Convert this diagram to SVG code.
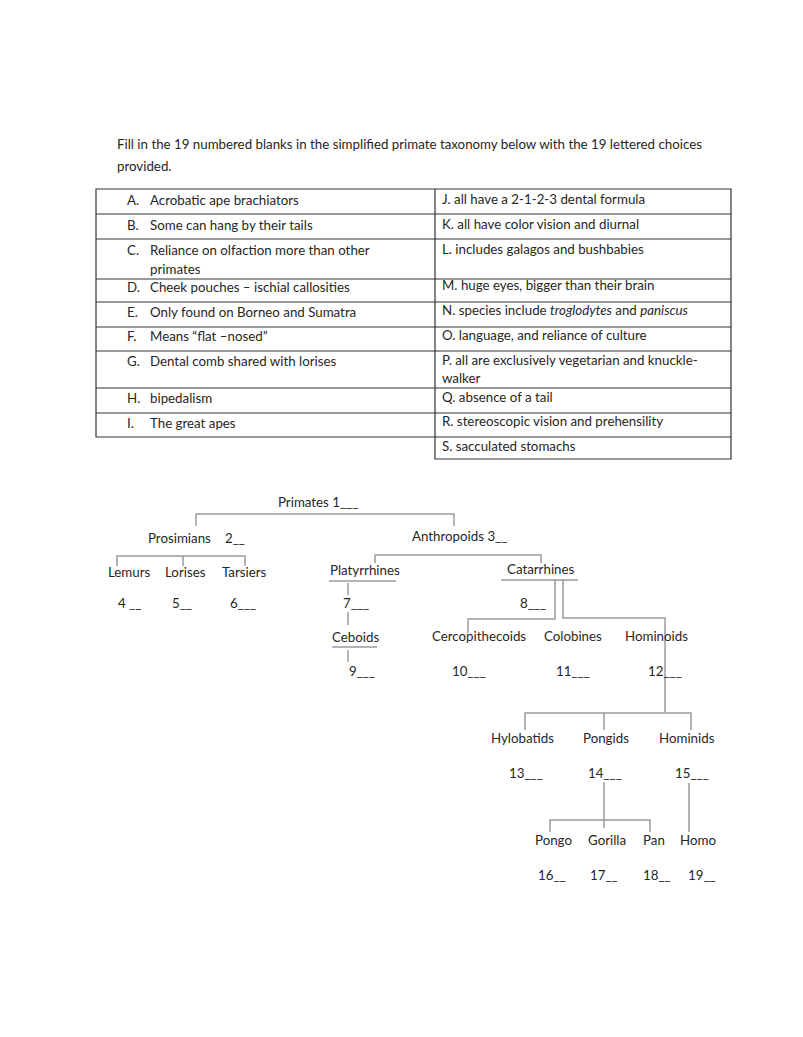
<svg xmlns="http://www.w3.org/2000/svg" width="803" height="1037" viewBox="0 0 803 1037">
<style>
text{font-family:Lato,"Open Sans","Liberation Sans",sans-serif;font-size:13.3px;fill:#262626}
.tb{fill:none;stroke:#333;stroke-width:1.2}
.c{fill:none;stroke:#9a9a9a;stroke-width:1.5}
</style>
<rect width="803" height="1037" fill="#fff"/>
<g id="instructions">
<text x="117" y="149">Fill in the 19 numbered blanks in the simplified primate taxonomy below with the 19 lettered choices</text>
<text x="117" y="171">provided.</text>
</g>
<g id="table">
<path class="tb" d="M96,189H731V459H435V437H96Z M435,189V437 M96,214H731 M96,239H731 M96,279H731 M96,302H731 M96,327H731 M96,351H731 M96,388H731 M96,413H731 M96,437H435 M435,437H731"/>
<g id="choices-left">
<text x="127" y="205">A.</text><text x="150" y="205">Acrobatic ape brachiators</text>
<text x="127" y="230">B.</text><text x="150" y="230">Some can hang by their tails</text>
<text x="127" y="255">C.</text><text x="150" y="255">Reliance on olfaction more than other</text>
<text x="150" y="274">primates</text>
<text x="127" y="292">D.</text><text x="150" y="292">Cheek pouches – ischial callosities</text>
<text x="127" y="317">E.</text><text x="150" y="317">Only found on Borneo and Sumatra</text>
<text x="127" y="341">F.</text><text x="150" y="341">Means “flat –nosed”</text>
<text x="127" y="366">G.</text><text x="150" y="366">Dental comb shared with lorises</text>
<text x="127" y="403">H.</text><text x="150" y="403">bipedalism</text>
<text x="127" y="428">I.</text><text x="150" y="428">The great apes</text>
</g>
<g id="choices-right">
<text x="442" y="204">J.  all have a 2-1-2-3 dental formula</text>
<text x="442" y="229">K. all have color vision and diurnal</text>
<text x="442" y="254">L. includes galagos and bushbabies</text>
<text x="442" y="290">M. huge eyes, bigger than their brain</text>
<text x="442" y="315">N. species include <tspan font-style="italic">troglodytes</tspan> and <tspan font-style="italic">paniscus</tspan></text>
<text x="442" y="340">O. language, and reliance of culture</text>
<text x="442" y="365">P. all are exclusively vegetarian and knuckle-</text>
<text x="442" y="383">walker</text>
<text x="442" y="402">Q. absence of a tail</text>
<text x="442" y="426">R. stereoscopic vision and prehensility</text>
<text x="442" y="451">S. sacculated stomachs</text>
</g>
</g>
<g id="connectors">
<path class="c" d="M196,526V514H454V526"/>
<path class="c" d="M117,566V556H245V566 M183,556V566"/>
<path class="c" d="M375,563V555H541V563"/>
<path class="c" d="M329,581H396 M348,583V595 M348,612V625 M332,647H377 M348,650V662"/>
<path class="c" d="M501,580H578"/>
<path class="c" d="M555,580V619H468V633 M563,580V618H665V712"/>
<path class="c" d="M525,730V713H691V730 M604,713V730"/>
<path class="c" d="M604,782V828 M550,832V820H650V832 M689,783V832"/>
</g>
<g id="n-primates"><text x="278" y="507">Primates 1___</text></g>
<g id="n-prosimians"><text x="148" y="543">Prosimians</text><text x="225" y="543">2__</text></g>
<g id="n-anthropoids"><text x="412" y="541">Anthropoids 3__</text></g>
<g id="n-lemurs"><text x="108" y="577">Lemurs</text><text x="118" y="608">4 __</text></g>
<g id="n-lorises"><text x="165" y="577">Lorises</text><text x="172" y="608">5__</text></g>
<g id="n-tarsiers"><text x="222" y="577">Tarsiers</text><text x="230" y="608">6___</text></g>
<g id="n-platyrrhines"><text x="330" y="575">Platyrrhines</text><text x="343" y="608">7___</text></g>
<g id="n-ceboids"><text x="332" y="642">Ceboids</text><text x="349" y="676">9___</text></g>
<g id="n-catarrhines"><text x="507" y="574">Catarrhines</text><text x="520" y="608">8___</text></g>
<g id="n-cercopithecoids"><text x="432" y="641">Cercopithecoids</text><text x="452" y="676">10___</text></g>
<g id="n-colobines"><text x="544" y="641">Colobines</text><text x="556" y="676">11___</text></g>
<g id="n-hominoids"><text x="625" y="641">Hominoids</text><text x="648" y="676">12___</text></g>
<g id="n-hylobatids"><text x="491" y="743">Hylobatids</text><text x="509" y="778">13___</text></g>
<g id="n-pongids"><text x="583" y="743">Pongids</text><text x="588" y="778">14___</text></g>
<g id="n-hominids"><text x="659" y="743">Hominids</text><text x="675" y="778">15___</text></g>
<g id="n-pongo"><text x="535" y="845">Pongo</text><text x="538" y="880">16__</text></g>
<g id="n-gorilla"><text x="588" y="845">Gorilla</text><text x="590" y="880">17__</text></g>
<g id="n-pan"><text x="643" y="845">Pan</text><text x="643" y="880">18__</text></g>
<g id="n-homo"><text x="680" y="845">Homo</text><text x="688" y="880">19__</text></g>
</svg>
